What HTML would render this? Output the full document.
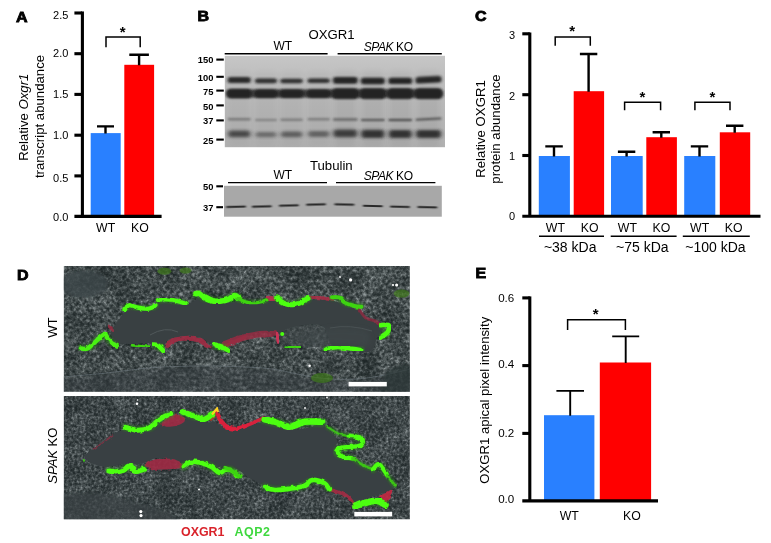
<!DOCTYPE html>
<html><head><meta charset="utf-8"><title>Figure</title>
<style>
html,body{margin:0;padding:0;background:#fff;}
body{width:771px;height:543px;overflow:hidden;}
svg{display:block;font-family:"Liberation Sans",Arial,Helvetica,sans-serif;fill:#000;}
.pl{font-weight:bold;font-size:15px;stroke:#000;stroke-width:0.85px;}
.t11{font-size:11px;}
.t115{font-size:11.5px;}
.t113{font-size:11.6px;}
.t123{font-size:12.3px;}
.t12{font-size:12px;}
.t13{font-size:13.2px;}
.mk{font-size:9.4px;font-weight:bold;}
.ax{stroke:#000;stroke-width:3.1;fill:none;}
.tk{stroke:#000;stroke-width:3.1;fill:none;}
.eb{stroke:#000;stroke-width:2.4;fill:none;}
.br{stroke:#000;stroke-width:1.5;fill:none;}
.ln{stroke:#000;stroke-width:1.4;fill:none;}
</style></head><body>
<svg width="771" height="543" viewBox="0 0 771 543">
<defs>
<filter id="b1" x="-20%" y="-100%" width="140%" height="300%"><feGaussianBlur stdDeviation="1.4 1.2"/></filter>
<filter id="b4" x="-60%" y="-20%" width="220%" height="140%"><feGaussianBlur stdDeviation="3 3"/></filter>
<filter id="b2" x="-20%" y="-300%" width="140%" height="700%"><feGaussianBlur stdDeviation="1.2 0.85"/></filter>
<filter id="b5" x="-20%" y="-300%" width="140%" height="700%"><feGaussianBlur stdDeviation="1.0 0.6"/></filter>
<filter id="b3" x="-20%" y="-100%" width="140%" height="300%"><feGaussianBlur stdDeviation="2.2 1.6"/></filter>
<filter id="gb" x="-10%" y="-10%" width="120%" height="120%"><feGaussianBlur stdDeviation="0.7"/></filter>
<filter id="gfx" x="-10%" y="-30%" width="120%" height="160%" color-interpolation-filters="sRGB"><feTurbulence type="fractalNoise" baseFrequency="0.18" numOctaves="2" seed="11" result="t"/><feDisplacementMap in="SourceGraphic" in2="t" scale="3.2" xChannelSelector="R" yChannelSelector="G" result="d"/><feGaussianBlur in="d" stdDeviation="0.75"/></filter>
<filter id="gb3" x="-20%" y="-40%" width="140%" height="180%"><feGaussianBlur stdDeviation="2.5"/></filter>
<filter id="gb2" x="-10%" y="-10%" width="120%" height="120%"><feGaussianBlur stdDeviation="1.2"/></filter>
<filter id="tex" x="0" y="0" width="100%" height="100%" color-interpolation-filters="sRGB">
  <feTurbulence type="fractalNoise" baseFrequency="0.3" numOctaves="3" seed="7" result="t1"/>
  <feColorMatrix in="t1" type="matrix" values="1 0 0 0 0  1 0 0 0 0  1 0 0 0 0  0 0 0 0 1" result="n1"/>
  <feTurbulence type="fractalNoise" baseFrequency="0.045" numOctaves="2" seed="3" result="t2"/>
  <feColorMatrix in="t2" type="matrix" values="1 0 0 0 0  1 0 0 0 0  1 0 0 0 0  0 0 0 0 1" result="n2"/>
  <feComposite in="n1" in2="n2" operator="arithmetic" k1="0" k2="1" k3="0.4" k4="-0.2" result="m"/>
  <feColorMatrix in="m" type="matrix" values="1 0 0 0 0  1 0 0 0 0  1 0 0 0 0  0 0 0 0 1" result="m2"/>
  <feComponentTransfer in="m2">
    <feFuncR type="gamma" amplitude="0.56" exponent="2" offset="0.115"/>
    <feFuncG type="gamma" amplitude="0.56" exponent="2" offset="0.148"/>
    <feFuncB type="gamma" amplitude="0.56" exponent="2" offset="0.151"/>
  </feComponentTransfer>
</filter>
<filter id="texk" x="0" y="0" width="100%" height="100%" color-interpolation-filters="sRGB">
  <feTurbulence type="fractalNoise" baseFrequency="0.36" numOctaves="3" seed="19" result="t1"/>
  <feColorMatrix in="t1" type="matrix" values="1 0 0 0 0  1 0 0 0 0  1 0 0 0 0  0 0 0 0 1" result="n1"/>
  <feTurbulence type="fractalNoise" baseFrequency="0.045" numOctaves="2" seed="5" result="t2"/>
  <feColorMatrix in="t2" type="matrix" values="1 0 0 0 0  1 0 0 0 0  1 0 0 0 0  0 0 0 0 1" result="n2"/>
  <feComposite in="n1" in2="n2" operator="arithmetic" k1="0" k2="1" k3="0.4" k4="-0.2" result="m"/>
  <feColorMatrix in="m" type="matrix" values="1 0 0 0 0  1 0 0 0 0  1 0 0 0 0  0 0 0 0 1" result="m2"/>
  <feComponentTransfer in="m2">
    <feFuncR type="gamma" amplitude="0.5" exponent="2" offset="0.118"/>
    <feFuncG type="gamma" amplitude="0.5" exponent="2" offset="0.15"/>
    <feFuncB type="gamma" amplitude="0.5" exponent="2" offset="0.156"/>
  </feComponentTransfer>
</filter>
<linearGradient id="gel1" x1="0" y1="0" x2="0" y2="1">
<stop offset="0" stop-color="#c6c6c6"/><stop offset="0.2" stop-color="#bfbfbf"/><stop offset="1" stop-color="#b1b1b1"/>
</linearGradient>
<clipPath id="cw"><rect x="63.85" y="266.1" width="345.95" height="125.55"/></clipPath>
<clipPath id="ck"><rect x="63.85" y="396" width="345.95" height="123.3"/></clipPath>
<clipPath id="cg1"><rect x="224.8" y="55.8" width="220.2" height="91.4"/></clipPath>
<clipPath id="cg2"><rect x="224" y="185.8" width="217.8" height="30.9"/></clipPath>
</defs>
<rect width="771" height="543" fill="#fff"/>

<g id="panelA">
<text class="pl" transform="translate(16.0,21.6) scale(1.07,1)">A</text>
<rect x="90.7" y="133.1" width="30.0" height="83.3" fill="#2980ff"/>
<rect x="124.3" y="64.8" width="29.8" height="151.6" fill="#ff0000"/>
<path class="eb" d="M97.0 126.4H114.0M105.5 126.4V133.6"/>
<path class="eb" d="M129.3 54.8H148.9M139.1 54.8V65.3"/>
<path class="ax" d="M82.4 11.45V216.4"/>
<path class="ax" d="M74.4 216.4H161.6"/>
<path class="tk" d="M74.4 13.0H82"/>
<text x="68.4" y="19.2" class="t11" text-anchor="end">2.5</text>
<path class="tk" d="M74.4 53.7H82"/>
<text x="68.4" y="57.4" class="t11" text-anchor="end">2.0</text>
<path class="tk" d="M74.4 94.4H82"/>
<text x="68.4" y="97.6" class="t11" text-anchor="end">1.5</text>
<path class="tk" d="M74.4 135.2H82"/>
<text x="68.4" y="139.4" class="t11" text-anchor="end">1.0</text>
<path class="tk" d="M74.4 175.9H82"/>
<text x="68.4" y="181.6" class="t11" text-anchor="end">0.5</text>
<text x="68.4" y="221.2" class="t11" text-anchor="end">0.0</text>
<path class="br" d="M106.0 47.2V37.0H140.2V47.2"/>
<text x="122.7" y="36.6" text-anchor="middle" font-size="15" font-weight="bold">*</text>
<text x="105.6" y="231.8" class="t123" text-anchor="middle">WT</text>
<text x="140.0" y="231.8" class="t123" text-anchor="middle">KO</text>
<text class="t13" text-anchor="middle" transform="translate(28.2,117.2) rotate(-90)">Relative <tspan font-style="italic">Oxgr1</tspan></text>
<text class="t13" text-anchor="middle" transform="translate(44.2,116.5) rotate(-90)">transcript abundance</text>
</g>
<g id="panelB">
<text class="pl" transform="translate(197.4,21.4) scale(1.07,1)">B</text>
<text x="331.5" y="38.7" class="t13" text-anchor="middle">OXGR1</text>
<text x="282.8" y="50.4" class="t12" text-anchor="middle">WT</text>
<text x="363.7" y="50.6" class="t12" textLength="49.3" lengthAdjust="spacing"><tspan font-style="italic">SPAK</tspan> KO</text>
<path class="ln" d="M224.7 53.7H327.6M337.6 53.7H441.8"/>
<rect x="224.8" y="55.8" width="220.2" height="91.4" fill="url(#gel1)"/>
<g clip-path="url(#cg1)">
<rect x="228.2" y="72" width="22" height="76" fill="#000" opacity="0.035" filter="url(#b4)"/>
<rect x="255.0" y="72" width="22" height="76" fill="#000" opacity="0.035" filter="url(#b4)"/>
<rect x="280.6" y="72" width="22" height="76" fill="#000" opacity="0.035" filter="url(#b4)"/>
<rect x="307.7" y="72" width="22" height="76" fill="#000" opacity="0.035" filter="url(#b4)"/>
<rect x="334.3" y="72" width="22" height="76" fill="#000" opacity="0.06" filter="url(#b4)"/>
<rect x="361.8" y="72" width="22" height="76" fill="#000" opacity="0.06" filter="url(#b4)"/>
<rect x="389.3" y="72" width="22" height="76" fill="#000" opacity="0.06" filter="url(#b4)"/>
<rect x="417.5" y="72" width="22" height="76" fill="#000" opacity="0.06" filter="url(#b4)"/>
<rect x="227.7" y="77.0" width="23" height="6" rx="2.6" fill="#1c1c1c" opacity="0.9" filter="url(#b1)"/>
<rect x="255.0" y="78.6" width="22" height="4.6" rx="2.6" fill="#1c1c1c" opacity="0.86" filter="url(#b1)"/>
<rect x="280.4" y="78.7" width="22.4" height="4.6" rx="2.6" fill="#1c1c1c" opacity="0.86" filter="url(#b1)"/>
<rect x="307.5" y="78.5" width="22.4" height="4.6" rx="2.6" fill="#1c1c1c" opacity="0.86" filter="url(#b1)"/>
<rect x="332.9" y="77.1" width="24.8" height="6.6" rx="2.6" fill="#1c1c1c" opacity="0.93" filter="url(#b1)"/>
<rect x="360.8" y="77.8" width="24" height="6.4" rx="2.6" fill="#1c1c1c" opacity="0.93" filter="url(#b1)"/>
<rect x="388.4" y="77.8" width="23.8" height="6.2" rx="2.6" fill="#1c1c1c" opacity="0.93" filter="url(#b1)"/>
<rect x="415.5" y="76.6" width="26" height="6.4" rx="2.6" fill="#1c1c1c" opacity="0.93" filter="url(#b1)" transform="rotate(-3 428.5 79.8)"/>
<rect x="226.5" y="89.6" width="216" height="8" rx="4" fill="#1a1a1a" opacity="0.75" filter="url(#b1)"/>
<rect x="226.5" y="88.9" width="25.4" height="9.4" rx="4.5" fill="#222" opacity="0.95" filter="url(#b1)"/>
<rect x="253.8" y="89.5" width="24.4" height="8.2" rx="4.5" fill="#222" opacity="0.95" filter="url(#b1)"/>
<rect x="279.2" y="89.5" width="24.799999999999997" height="8.2" rx="4.5" fill="#222" opacity="0.95" filter="url(#b1)"/>
<rect x="306.3" y="89.5" width="24.799999999999997" height="8.2" rx="4.5" fill="#222" opacity="0.95" filter="url(#b1)"/>
<rect x="331.7" y="88.2" width="27.2" height="10.8" rx="4.5" fill="#222" opacity="0.95" filter="url(#b1)"/>
<rect x="359.6" y="88.2" width="26.4" height="10.8" rx="4.5" fill="#222" opacity="0.95" filter="url(#b1)"/>
<rect x="387.2" y="88.2" width="26.2" height="10.8" rx="4.5" fill="#222" opacity="0.95" filter="url(#b1)"/>
<rect x="414.3" y="88.2" width="28.4" height="10.8" rx="4.5" fill="#222" opacity="0.95" filter="url(#b1)"/>
<rect x="227.7" y="118.3" width="23" height="1.9" rx="0.95" fill="#1c1c1c" opacity="0.46" filter="url(#b2)"/>
<rect x="255.0" y="119.0" width="22" height="1.9" rx="0.95" fill="#1c1c1c" opacity="0.34" filter="url(#b2)"/>
<rect x="280.4" y="118.8" width="22.4" height="1.9" rx="0.95" fill="#1c1c1c" opacity="0.42" filter="url(#b2)"/>
<rect x="307.5" y="118.3" width="22.4" height="1.9" rx="0.95" fill="#1c1c1c" opacity="0.42" filter="url(#b2)"/>
<rect x="332.9" y="118.6" width="24.8" height="1.9" rx="0.95" fill="#1c1c1c" opacity="0.56" filter="url(#b2)"/>
<rect x="360.8" y="119.0" width="24" height="1.9" rx="0.95" fill="#1c1c1c" opacity="0.66" filter="url(#b2)"/>
<rect x="388.4" y="119.0" width="23.8" height="1.9" rx="0.95" fill="#1c1c1c" opacity="0.74" filter="url(#b2)"/>
<rect x="415.5" y="118.2" width="26" height="1.9" rx="0.95" fill="#1c1c1c" opacity="0.74" filter="url(#b2)" transform="rotate(-3 428.5 119.2)"/>
<rect x="228.2" y="130.4" width="22" height="6.8" rx="2.8" fill="#202020" opacity="0.72" filter="url(#b3)"/>
<rect x="255.5" y="131.9" width="21" height="5.4" rx="2.8" fill="#202020" opacity="0.48" filter="url(#b3)"/>
<rect x="280.9" y="131.5" width="21.4" height="5.8" rx="2.8" fill="#202020" opacity="0.58" filter="url(#b3)"/>
<rect x="308.0" y="131.1" width="21.4" height="5.8" rx="2.8" fill="#202020" opacity="0.54" filter="url(#b3)"/>
<rect x="333.4" y="129.5" width="23.8" height="7.8" rx="2.8" fill="#202020" opacity="0.8" filter="url(#b3)"/>
<rect x="361.3" y="129.8" width="23" height="8.2" rx="2.8" fill="#202020" opacity="0.88" filter="url(#b3)"/>
<rect x="388.9" y="130.0" width="22.8" height="8" rx="2.8" fill="#202020" opacity="0.88" filter="url(#b3)"/>
<rect x="416.0" y="129.9" width="25" height="8" rx="2.8" fill="#202020" opacity="0.88" filter="url(#b3)"/>
</g>
<text x="213.4" y="62.8" class="mk" text-anchor="end">150</text>
<path d="M216.3 59.6H223.8" stroke="#000" stroke-width="2.1"/>
<text x="213.4" y="80.7" class="mk" text-anchor="end">100</text>
<path d="M216.3 76.8H223.8" stroke="#000" stroke-width="2.1"/>
<text x="213.4" y="94.5" class="mk" text-anchor="end">75</text>
<path d="M216.3 90.6H223.8" stroke="#000" stroke-width="2.1"/>
<text x="213.4" y="110.2" class="mk" text-anchor="end">50</text>
<path d="M216.3 105.4H223.8" stroke="#000" stroke-width="2.1"/>
<text x="213.4" y="123.6" class="mk" text-anchor="end">37</text>
<path d="M216.3 120.4H223.8" stroke="#000" stroke-width="2.1"/>
<text x="213.4" y="143.8" class="mk" text-anchor="end">25</text>
<path d="M216.3 139.6H223.8" stroke="#000" stroke-width="2.1"/>
<text x="331.3" y="169.7" class="t13" text-anchor="middle">Tubulin</text>
<text x="282.8" y="179.4" class="t12" text-anchor="middle">WT</text>
<text x="363.7" y="179.5" class="t12" textLength="49.3" lengthAdjust="spacing"><tspan font-style="italic">SPAK</tspan> KO</text>
<path class="ln" d="M228 182.6H327M336 182.6H435.4"/>
<rect x="224" y="185.8" width="217.8" height="30.9" fill="#a8a8a8"/>
<g clip-path="url(#cg2)">
<rect x="226.0" y="205.8" width="20" height="2" rx="1" fill="#1c1c1c" opacity="0.9" filter="url(#b5)" transform="rotate(-1.6 236 206.8)"/>
<rect x="251.8" y="205.4" width="20" height="2" rx="1" fill="#1c1c1c" opacity="0.9" filter="url(#b5)" transform="rotate(-1.6 261.8 206.4)"/>
<rect x="278.9" y="204.5" width="20" height="2" rx="1" fill="#1c1c1c" opacity="0.9" filter="url(#b5)" transform="rotate(-1.6 288.9 205.5)"/>
<rect x="306.0" y="203.6" width="20" height="2" rx="1" fill="#1c1c1c" opacity="0.9" filter="url(#b5)" transform="rotate(-1.6 316 204.6)"/>
<rect x="334.4" y="203.6" width="20" height="2" rx="1" fill="#1c1c1c" opacity="0.9" filter="url(#b5)" transform="rotate(1.5 344.4 204.6)"/>
<rect x="362.8" y="205.0" width="20" height="2" rx="1" fill="#1c1c1c" opacity="0.9" filter="url(#b5)" transform="rotate(1.5 372.8 206)"/>
<rect x="390.0" y="205.8" width="20" height="2" rx="1" fill="#1c1c1c" opacity="0.9" filter="url(#b5)" transform="rotate(1.5 400 206.8)"/>
<rect x="417.3" y="206.2" width="20" height="2" rx="1" fill="#1c1c1c" opacity="0.9" filter="url(#b5)" transform="rotate(1.5 427.3 207.2)"/>
</g>
<text x="213.4" y="189.6" class="mk" text-anchor="end">50</text>
<path d="M216.3 186.3H223" stroke="#000" stroke-width="2.1"/>
<text x="213.4" y="210.5" class="mk" text-anchor="end">37</text>
<path d="M216.3 207.2H223" stroke="#000" stroke-width="2.1"/>
</g>
<g id="panelC">
<text class="pl" transform="translate(475.0,21.2) scale(1.07,1)">C</text>
<rect x="538.8" y="156.0" width="31.1" height="60.3" fill="#2980ff"/>
<path class="eb" d="M545.3 146.4H562.8M554.0 146.4V156.5"/>
<rect x="573.7" y="91.2" width="30.4" height="125.1" fill="#ff0000"/>
<path class="eb" d="M579.9 54.0H597.3M588.6 54.0V91.7"/>
<rect x="611.0" y="156.0" width="31.7" height="60.3" fill="#2980ff"/>
<path class="eb" d="M617.9 151.8H635.3M626.6 151.8V156.5"/>
<rect x="646.3" y="137.2" width="30.6" height="79.1" fill="#ff0000"/>
<path class="eb" d="M652.6 132.2H670.0M661.3 132.2V137.7"/>
<rect x="684.2" y="156.0" width="31.1" height="60.3" fill="#2980ff"/>
<path class="eb" d="M690.8 146.4H708.2M699.5 146.4V156.5"/>
<rect x="719.8" y="132.3" width="30.4" height="84.0" fill="#ff0000"/>
<path class="eb" d="M726.0 125.8H743.4M734.7 125.8V132.8"/>
<path class="ax" d="M529.8 32.5V216.3"/>
<path class="ax" d="M522.3 216.3H760.5"/>
<path class="tk" d="M522.3 33.8H529.8"/>
<text x="515.0" y="38.8" class="t11" text-anchor="end">3</text>
<path class="tk" d="M522.3 94.7H529.8"/>
<text x="515.0" y="99.7" class="t11" text-anchor="end">2</text>
<path class="tk" d="M522.3 155.5H529.8"/>
<text x="515.0" y="160.1" class="t11" text-anchor="end">1</text>
<text x="515.0" y="220.4" class="t11" text-anchor="end">0</text>
<path class="br" d="M555.2 45.8V37.1H590.3V45.8"/>
<text x="572.2" y="36.3" text-anchor="middle" font-size="15" font-weight="bold">*</text>
<path class="br" d="M624.6 110.3V102.2H660.6V110.3"/>
<text x="642.5" y="101.8" text-anchor="middle" font-size="15" font-weight="bold">*</text>
<path class="br" d="M694.9 110.3V102.2H730.0V110.3"/>
<text x="712.4" y="101.8" text-anchor="middle" font-size="15" font-weight="bold">*</text>
<text x="555.4" y="231.9" class="t123" text-anchor="middle">WT</text>
<text x="589.7" y="231.9" class="t123" text-anchor="middle">KO</text>
<text x="627.4" y="231.9" class="t123" text-anchor="middle">WT</text>
<text x="661.5" y="231.9" class="t123" text-anchor="middle">KO</text>
<text x="699.6" y="231.9" class="t123" text-anchor="middle">WT</text>
<text x="733.7" y="231.9" class="t123" text-anchor="middle">KO</text>
<path class="ln" d="M539 236.2H604M610.7 236.2H676.6M682.8 236.2H749.8"/>
<text x="543.9" y="251.8" font-size="14">~38 kDa</text>
<text x="616" y="251.8" font-size="14">~75 kDa</text>
<text x="685.3" y="251.8" font-size="14">~100 kDa</text>
<text class="t13" text-anchor="middle" transform="translate(485,129) rotate(-90)">Relative OXGR1</text>
<text class="t13" text-anchor="middle" transform="translate(500.4,129) rotate(-90)">protein abundance</text>
</g>
<g id="panelE">
<text class="pl" transform="translate(475.4,277.6) scale(1.07,1)">E</text>
<rect x="544.0" y="415.2" width="50.4" height="85.7" fill="#2980ff"/>
<rect x="599.8" y="362.5" width="51.3" height="138.4" fill="#ff0000"/>
<path class="eb" style="stroke-width:1.9" d="M556.4 390.9H584.0M570.2 390.9V415.7"/>
<path class="eb" style="stroke-width:1.9" d="M612.2 336.4H639.2M625.7 336.4V363.0"/>
<path class="ax" d="M529.8 296.4V500.9"/>
<path class="ax" d="M522.3 500.9H658"/>
<path class="tk" d="M522.3 297.9H529.8"/>
<text x="514.3" y="302.0" class="t113" text-anchor="end">0.6</text>
<path class="tk" d="M522.3 365.6H529.8"/>
<text x="514.3" y="368.4" class="t113" text-anchor="end">0.4</text>
<path class="tk" d="M522.3 433.4H529.8"/>
<text x="514.3" y="437.4" class="t113" text-anchor="end">0.2</text>
<text x="514.3" y="502.6" class="t113" text-anchor="end">0.0</text>
<path class="br" d="M567.6 330.0V319.7H625.4V330.0"/>
<text x="595.6" y="318.8" text-anchor="middle" font-size="15" font-weight="bold">*</text>
<text x="569.3" y="520.3" class="t123" text-anchor="middle">WT</text>
<text x="632.0" y="520.3" class="t123" text-anchor="middle">KO</text>
<text class="t13" text-anchor="middle" transform="translate(489.3,400.3) rotate(-90)">OXGR1 apical pixel intensity</text>
</g>
<g id="panelD">
<text class="pl" transform="translate(17.0,279.8) scale(1.07,1)">D</text>
<text class="t13" text-anchor="middle" transform="translate(57.2,327.6) rotate(-90)">WT</text>
<text class="t13" transform="translate(57.2,483.7) rotate(-90)" textLength="56.2" lengthAdjust="spacing"><tspan font-style="italic">SPAK</tspan> KO</text>
<text x="181" y="536" font-size="12.4" font-weight="bold" fill="#d9222a">OXGR1</text>
<text x="234.6" y="536" font-size="12.4" font-weight="bold" fill="#3fd83f" textLength="35.3" lengthAdjust="spacing">AQP2</text>
<g clip-path="url(#cw)">
<rect x="63" y="265" width="348" height="128" filter="url(#tex)"/>
<ellipse cx="84" cy="284" rx="24" ry="14" fill="#3e4648" opacity="0.8" filter="url(#gb2)"/>
<path d="M62.0 377.0C69.1 376.4 89.3 374.8 104.7 373.2C120.1 371.6 137.9 368.7 154.5 367.5C171.1 366.3 189.1 366.1 204.2 366.0C219.3 365.9 233.2 366.4 245.0 367.0C256.8 367.6 263.5 367.8 274.7 369.4C285.9 371.0 300.4 375.2 312.0 376.9C323.6 378.6 334.0 379.4 344.4 379.4C354.8 379.4 363.1 378.6 374.2 376.9C385.3 375.2 404.9 370.3 411.0 369.0L411 393L62 393Z" fill="#3a4244" opacity="0.45" filter="url(#gb2)"/>
<path d="M62.0 377.0C69.1 376.4 89.3 374.8 104.7 373.2C120.1 371.6 137.9 368.7 154.5 367.5C171.1 366.3 189.1 366.1 204.2 366.0C219.3 365.9 233.2 366.4 245.0 367.0C256.8 367.6 263.5 367.8 274.7 369.4C285.9 371.0 300.4 375.2 312.0 376.9C323.6 378.6 334.0 379.4 344.4 379.4C354.8 379.4 363.1 378.6 374.2 376.9C385.3 375.2 404.9 370.3 411.0 369.0" fill="none" stroke="#78828a" stroke-width="0.9" opacity="0.55"/>
<path d="M380 392 L384 372 Q398 362 411 364 L411 392Z" fill="#2c3436" opacity="0.7" filter="url(#gb2)"/>
<path d="M111.0 331.0C111.6 328.1 115.1 325.1 117.2 322.2C119.3 319.3 121.3 315.6 123.4 313.5C125.5 311.4 126.5 310.3 129.6 309.7C132.7 309.1 138.1 309.9 142.0 309.7C145.9 309.5 150.3 309.7 153.2 308.5C156.1 307.3 156.4 303.1 159.5 302.3C162.6 301.5 167.8 303.1 171.9 303.5C176.0 303.9 180.6 305.2 184.3 304.8C188.0 304.4 191.8 302.2 194.3 301.0C196.8 299.8 196.7 297.5 199.2 297.3C201.7 297.1 205.9 298.8 209.2 299.8C212.5 300.8 215.4 303.1 219.1 303.5C222.8 303.9 227.3 302.8 231.6 302.3C235.9 301.8 241.5 300.1 245.0 300.3C248.5 300.5 249.1 303.4 252.4 303.5C255.7 303.6 261.5 301.6 264.8 301.0C268.1 300.4 270.0 299.8 272.3 299.8C274.6 299.8 276.0 300.0 278.5 301.0C281.0 302.0 284.1 305.4 287.2 306.0C290.3 306.6 293.4 305.8 297.1 304.8C300.8 303.8 305.0 300.6 309.6 299.8C314.2 299.0 320.4 299.6 324.5 299.8C328.6 300.0 331.1 300.2 334.4 301.0C337.7 301.8 341.1 303.6 344.4 304.8C347.7 306.1 351.6 307.7 354.3 308.5C357.0 309.3 358.8 308.2 360.5 309.7C362.2 311.1 362.0 315.1 364.3 317.2C366.6 319.3 371.3 320.8 374.2 322.2C377.1 323.6 380.7 323.8 381.7 325.9C382.7 328.0 381.2 332.5 380.4 334.6C379.6 336.7 377.7 336.2 376.7 338.3C375.7 340.4 375.4 344.7 374.2 347.0C372.9 349.3 371.7 351.4 369.2 352.0C366.7 352.6 362.6 351.4 359.3 350.8C356.0 350.2 353.0 348.9 349.3 348.3C345.6 347.7 339.9 347.6 336.9 347.0C333.9 346.4 333.1 346.9 331.5 345.0C329.9 343.1 328.9 338.6 327.5 335.5C326.1 332.4 325.6 328.3 323.0 326.5C320.4 324.7 316.5 324.6 312.0 324.6C307.5 324.6 300.7 325.6 296.0 326.5C291.3 327.4 286.8 328.9 284.0 330.2C281.2 331.5 281.1 334.0 279.5 334.5C277.9 335.0 277.6 333.8 274.7 333.4C271.8 333.0 266.4 331.9 262.3 332.1C258.2 332.3 254.1 333.4 249.9 334.6C245.8 335.9 241.3 337.8 237.4 339.6C233.5 341.4 230.1 344.7 226.6 345.3C223.1 345.9 219.2 343.4 216.7 343.3C214.2 343.2 213.8 345.2 211.7 344.6C209.6 344.0 207.1 341.1 204.2 339.6C201.3 338.2 197.6 336.5 194.3 335.9C191.0 335.3 188.0 335.5 184.3 335.9C180.6 336.3 175.0 337.3 171.9 338.3C168.8 339.3 167.4 340.8 165.7 342.0C164.0 343.2 163.8 345.6 161.9 345.8C160.0 346.0 157.8 343.7 154.5 343.3C151.2 342.9 145.7 343.2 142.0 343.3C138.3 343.4 135.8 344.0 132.1 344.0C128.4 344.0 122.8 344.0 119.7 343.3C116.6 342.6 114.9 341.7 113.4 339.6C112.0 337.6 110.4 333.9 111.0 331.0Z" fill="#394042"/>
<path d="M279.5 335 L284 330.2 L296 326.5 L312 324.6 L323 326.5 L327.5 335.5 L331.5 345 L336 348 L300 346.5 L281 344Z" fill="#3f4749" opacity="0.5" filter="url(#gb)"/>
<path d="M150 335 Q165 326 178 332" stroke="#50585a" stroke-width="1" fill="none"/>
<path d="M330 328 Q350 324 372 331" stroke="#4b5355" stroke-width="1" fill="none"/>
<path d="M296 336 Q330 324 366 330 Q374 338 366 347 Q330 343 300 343Z" fill="#434b4d" opacity="0.45" filter="url(#gb3)"/>
<path d="M164.4 347.0C164.4 346.0 166.5 342.4 168.2 340.8C169.9 339.2 171.7 338.4 174.4 337.6C177.1 336.8 181.0 336.2 184.3 335.9C187.6 335.6 191.4 335.5 194.3 335.9C197.2 336.3 199.4 337.1 201.7 338.3C204.0 339.5 206.2 341.6 207.9 343.3C209.6 345.0 212.3 347.9 211.7 348.3C211.1 348.7 206.7 346.9 204.2 345.8C201.7 344.8 200.1 342.8 196.8 342.0C193.5 341.2 188.0 340.7 184.3 340.8C180.6 340.9 177.1 341.8 174.4 342.8C171.7 343.8 169.9 346.3 168.2 347.0C166.5 347.7 164.4 348.0 164.4 347.0Z" fill="#a02c44" opacity="0.92" filter="url(#gfx)"/>
<path d="M226.6 345.6C227.8 345.0 230.9 343.2 234.0 341.8C237.1 340.4 243.2 337.8 245.0 337.0" fill="none" stroke="#a52c44" stroke-width="3.5" stroke-linecap="round" stroke-linejoin="round" opacity="0.9" filter="url(#gfx)"/>
<path d="M225.0 344.1C227.5 343.1 234.5 340.2 239.9 338.6C245.3 337.0 251.5 335.4 257.3 334.6C263.1 333.8 271.8 333.8 274.7 333.6" fill="none" stroke="#962c42" stroke-width="6.5" stroke-linecap="round" stroke-linejoin="round" opacity="0.85" filter="url(#gfx)"/>
<path d="M276.6 333.5C276.8 334.2 277.3 336.6 277.6 338.0C277.9 339.4 278.1 341.3 278.2 342.0" fill="none" stroke="#d03458" stroke-width="3.6" stroke-linecap="round" stroke-linejoin="round" opacity="0.95" filter="url(#gfx)"/>
<path d="M267.0 297.5C267.5 297.7 268.9 298.2 270.0 298.6C271.1 299.0 273.0 299.4 273.6 299.6" fill="none" stroke="#b83050" stroke-width="6" stroke-linecap="round" stroke-linejoin="round" opacity="0.9" filter="url(#gfx)"/>
<path d="M310.5 297.0C312.0 297.0 315.9 296.8 319.5 297.2C323.1 297.6 329.9 299.2 332.0 299.6" fill="none" stroke="#a52c44" stroke-width="4.2" stroke-linecap="round" stroke-linejoin="round" opacity="0.9" filter="url(#gfx)"/>
<path d="M359.3 309.7C360.3 311.0 363.0 315.8 365.5 317.7C368.0 319.6 371.7 319.8 374.2 320.9C376.7 322.0 379.4 323.6 380.4 324.2" fill="none" stroke="#8e2a40" stroke-width="3" stroke-linecap="round" stroke-linejoin="round" opacity="0.8" filter="url(#gfx)"/>
<path d="M108.5 325.9C109.2 326.6 112.0 329.6 112.7 330.4" fill="none" stroke="#a52c44" stroke-width="2.8" stroke-linecap="round" stroke-linejoin="round" opacity="0.75" filter="url(#gfx)"/>
<path d="M124.5 310.2C124.9 309.6 126.1 307.4 127.0 306.6C127.9 305.8 128.3 305.1 130.0 305.2C131.7 305.3 134.2 306.8 137.0 307.4C139.8 308.0 144.4 308.8 147.0 308.8C149.6 308.8 151.1 308.0 152.5 307.4C153.9 306.8 155.0 305.4 155.5 305.0" fill="none" stroke="#2c9a12" stroke-width="6.6" stroke-linecap="round" stroke-linejoin="round" opacity="0.5" filter="url(#gb2)"/>
<path d="M124.5 310.2C124.9 309.6 126.1 307.4 127.0 306.6C127.9 305.8 128.3 305.1 130.0 305.2C131.7 305.3 134.2 306.8 137.0 307.4C139.8 308.0 144.4 308.8 147.0 308.8C149.6 308.8 151.1 308.0 152.5 307.4C153.9 306.8 155.0 305.4 155.5 305.0" fill="none" stroke="#4cff10" stroke-width="4.2" stroke-linecap="round" stroke-linejoin="round" opacity="1" filter="url(#gfx)"/>
<path d="M158.0 300.0C159.2 299.9 162.7 299.4 165.0 299.4C167.3 299.4 169.7 299.4 172.0 299.8C174.3 300.2 176.7 301.0 179.0 301.6C181.3 302.2 184.5 303.3 185.6 303.6" fill="none" stroke="#2c9a12" stroke-width="6.4" stroke-linecap="round" stroke-linejoin="round" opacity="0.5" filter="url(#gb2)"/>
<path d="M158.0 300.0C159.2 299.9 162.7 299.4 165.0 299.4C167.3 299.4 169.7 299.4 172.0 299.8C174.3 300.2 176.7 301.0 179.0 301.6C181.3 302.2 184.5 303.3 185.6 303.6" fill="none" stroke="#4cff10" stroke-width="4" stroke-linecap="round" stroke-linejoin="round" opacity="1" filter="url(#gfx)"/>
<path d="M196.0 293.6C196.6 293.6 198.2 292.8 199.5 293.4C200.8 294.0 201.9 295.8 204.0 297.0C206.1 298.2 209.3 300.1 212.0 300.8C214.7 301.5 217.3 301.4 220.0 301.2C222.7 301.0 225.6 300.4 228.0 299.5C230.4 298.6 232.8 295.9 234.5 295.6C236.2 295.3 237.4 297.2 238.0 297.5" fill="none" stroke="#2c9a12" stroke-width="8.0" stroke-linecap="round" stroke-linejoin="round" opacity="0.5" filter="url(#gb2)"/>
<path d="M196.0 293.6C196.6 293.6 198.2 292.8 199.5 293.4C200.8 294.0 201.9 295.8 204.0 297.0C206.1 298.2 209.3 300.1 212.0 300.8C214.7 301.5 217.3 301.4 220.0 301.2C222.7 301.0 225.6 300.4 228.0 299.5C230.4 298.6 232.8 295.9 234.5 295.6C236.2 295.3 237.4 297.2 238.0 297.5" fill="none" stroke="#4cff10" stroke-width="5.6" stroke-linecap="round" stroke-linejoin="round" opacity="1" filter="url(#gfx)"/>
<path d="M238.0 298.5C239.3 299.1 243.2 301.3 246.0 302.0C248.8 302.7 252.3 302.9 255.0 302.8C257.7 302.7 260.2 302.0 262.0 301.5C263.8 301.0 265.3 300.1 266.0 299.8" fill="none" stroke="#2c9a12" stroke-width="5.4" stroke-linecap="round" stroke-linejoin="round" opacity="0.5" filter="url(#gb2)"/>
<path d="M238.0 298.5C239.3 299.1 243.2 301.3 246.0 302.0C248.8 302.7 252.3 302.9 255.0 302.8C257.7 302.7 260.2 302.0 262.0 301.5C263.8 301.0 265.3 300.1 266.0 299.8" fill="none" stroke="#3ed410" stroke-width="3" stroke-linecap="round" stroke-linejoin="round" opacity="1" filter="url(#gfx)"/>
<path d="M277.0 297.0C277.7 297.8 279.2 300.2 281.0 301.5C282.8 302.8 285.3 304.2 288.0 304.6C290.7 305.0 294.3 304.7 297.0 304.0C299.7 303.3 302.2 301.4 304.0 300.5C305.8 299.6 307.3 298.8 308.0 298.5" fill="none" stroke="#2c9a12" stroke-width="7.4" stroke-linecap="round" stroke-linejoin="round" opacity="0.5" filter="url(#gb2)"/>
<path d="M277.0 297.0C277.7 297.8 279.2 300.2 281.0 301.5C282.8 302.8 285.3 304.2 288.0 304.6C290.7 305.0 294.3 304.7 297.0 304.0C299.7 303.3 302.2 301.4 304.0 300.5C305.8 299.6 307.3 298.8 308.0 298.5" fill="none" stroke="#4cff10" stroke-width="5" stroke-linecap="round" stroke-linejoin="round" opacity="1" filter="url(#gfx)"/>
<path d="M332.0 297.3C333.2 297.3 337.3 296.7 339.4 297.5C341.5 298.3 341.9 300.9 344.4 302.3C346.9 303.7 351.5 305.2 354.3 306.0C357.1 306.8 360.1 306.7 361.3 306.8" fill="none" stroke="#2c9a12" stroke-width="6.4" stroke-linecap="round" stroke-linejoin="round" opacity="0.5" filter="url(#gb2)"/>
<path d="M332.0 297.3C333.2 297.3 337.3 296.7 339.4 297.5C341.5 298.3 341.9 300.9 344.4 302.3C346.9 303.7 351.5 305.2 354.3 306.0C357.1 306.8 360.1 306.7 361.3 306.8" fill="none" stroke="#3ed410" stroke-width="4" stroke-linecap="round" stroke-linejoin="round" opacity="1" filter="url(#gfx)"/>
<path d="M380.4 325.2C381.8 325.2 387.4 324.0 388.6 325.2C389.8 326.4 389.0 330.0 387.6 332.1C386.2 334.2 381.6 336.7 380.4 337.6" fill="none" stroke="#2c9a12" stroke-width="7.0" stroke-linecap="round" stroke-linejoin="round" opacity="0.5" filter="url(#gb2)"/>
<path d="M380.4 325.2C381.8 325.2 387.4 324.0 388.6 325.2C389.8 326.4 389.0 330.0 387.6 332.1C386.2 334.2 381.6 336.7 380.4 337.6" fill="none" stroke="#4cff10" stroke-width="4.6" stroke-linecap="round" stroke-linejoin="round" opacity="1" filter="url(#gfx)"/>
<path d="M81.0 348.5C82.0 348.6 85.1 349.5 87.0 348.8C88.9 348.1 90.4 346.3 92.5 344.5C94.6 342.7 97.4 339.8 99.5 338.0C101.6 336.2 104.1 334.5 105.0 333.8" fill="none" stroke="#2c9a12" stroke-width="6.800000000000001" stroke-linecap="round" stroke-linejoin="round" opacity="0.5" filter="url(#gb2)"/>
<path d="M81.0 348.5C82.0 348.6 85.1 349.5 87.0 348.8C88.9 348.1 90.4 346.3 92.5 344.5C94.6 342.7 97.4 339.8 99.5 338.0C101.6 336.2 104.1 334.5 105.0 333.8" fill="none" stroke="#4cff10" stroke-width="4.4" stroke-linecap="round" stroke-linejoin="round" opacity="0.9" filter="url(#gfx)"/>
<path d="M105.5 335.0C105.9 335.7 106.9 337.7 108.0 339.0C109.1 340.3 110.5 341.9 112.0 343.0C113.5 344.1 116.2 345.3 117.0 345.8" fill="none" stroke="#2c9a12" stroke-width="6.4" stroke-linecap="round" stroke-linejoin="round" opacity="0.5" filter="url(#gb2)"/>
<path d="M105.5 335.0C105.9 335.7 106.9 337.7 108.0 339.0C109.1 340.3 110.5 341.9 112.0 343.0C113.5 344.1 116.2 345.3 117.0 345.8" fill="none" stroke="#4cff10" stroke-width="4" stroke-linecap="round" stroke-linejoin="round" opacity="0.9" filter="url(#gfx)"/>
<path d="M132.1 345.3C133.4 345.4 137.3 345.8 140.0 346.0C142.7 346.2 146.9 346.4 148.3 346.5" fill="none" stroke="#2c9a12" stroke-width="4.8" stroke-linecap="round" stroke-linejoin="round" opacity="0.5" filter="url(#gb2)"/>
<path d="M132.1 345.3C133.4 345.4 137.3 345.8 140.0 346.0C142.7 346.2 146.9 346.4 148.3 346.5" fill="none" stroke="#3ed410" stroke-width="2.4" stroke-linecap="round" stroke-linejoin="round" opacity="1" filter="url(#gfx)"/>
<path d="M153.2 344.6C154.0 344.8 156.5 344.8 158.2 345.8C159.9 346.8 162.4 350.0 163.2 350.8" fill="none" stroke="#2c9a12" stroke-width="7.199999999999999" stroke-linecap="round" stroke-linejoin="round" opacity="0.5" filter="url(#gb2)"/>
<path d="M153.2 344.6C154.0 344.8 156.5 344.8 158.2 345.8C159.9 346.8 162.4 350.0 163.2 350.8" fill="none" stroke="#4cff10" stroke-width="4.8" stroke-linecap="round" stroke-linejoin="round" opacity="1" filter="url(#gfx)"/>
<path d="M214.2 344.6C215.4 345.0 219.3 346.0 221.6 347.0C223.9 348.0 226.8 350.2 227.8 350.8" fill="none" stroke="#2c9a12" stroke-width="7.6" stroke-linecap="round" stroke-linejoin="round" opacity="0.5" filter="url(#gb2)"/>
<path d="M214.2 344.6C215.4 345.0 219.3 346.0 221.6 347.0C223.9 348.0 226.8 350.2 227.8 350.8" fill="none" stroke="#4cff10" stroke-width="5.2" stroke-linecap="round" stroke-linejoin="round" opacity="1" filter="url(#gfx)"/>
<path d="M286.0 347.0C288.3 347.1 297.3 347.4 299.6 347.5" fill="none" stroke="#2c9a12" stroke-width="5.4" stroke-linecap="round" stroke-linejoin="round" opacity="0.5" filter="url(#gb2)"/>
<path d="M286.0 347.0C288.3 347.1 297.3 347.4 299.6 347.5" fill="none" stroke="#3ed410" stroke-width="3" stroke-linecap="round" stroke-linejoin="round" opacity="1" filter="url(#gfx)"/>
<path d="M325.7 349.5C327.6 349.1 333.1 347.4 337.0 347.2C340.9 347.0 345.2 347.9 349.3 348.4C353.4 348.9 359.3 349.7 361.3 350.0" fill="none" stroke="#2c9a12" stroke-width="6.6" stroke-linecap="round" stroke-linejoin="round" opacity="0.5" filter="url(#gb2)"/>
<path d="M325.7 349.5C327.6 349.1 333.1 347.4 337.0 347.2C340.9 347.0 345.2 347.9 349.3 348.4C353.4 348.9 359.3 349.7 361.3 350.0" fill="none" stroke="#4cff10" stroke-width="4.2" stroke-linecap="round" stroke-linejoin="round" opacity="1" filter="url(#gfx)"/>
<circle cx="282.2" cy="334.1" r="2" fill="#4cff10" filter="url(#gb)"/>
<ellipse cx="322" cy="378" rx="11" ry="5" fill="#3f7a1c" opacity="0.7" filter="url(#gb)"/>
<ellipse cx="401.6" cy="293.6" rx="8" ry="4" fill="#3f7a1c" opacity="0.7" filter="url(#gb)"/>
<ellipse cx="164.4" cy="271.2" rx="7" ry="3.5" fill="#3f7a1c" opacity="0.7" filter="url(#gb)"/>
<ellipse cx="185.6" cy="270.6" rx="6" ry="3" fill="#3f7a1c" opacity="0.7" filter="url(#gb)"/>
<circle cx="350.6" cy="279.9" r="1.6" fill="#fff" filter="url(#gb)"/>
<circle cx="396.6" cy="284.9" r="1.5" fill="#fff" filter="url(#gb)"/>
<circle cx="309.6" cy="365.7" r="1.3" fill="#fff" filter="url(#gb)"/>
<circle cx="340" cy="277" r="0.9" fill="#fff" filter="url(#gb)"/>
<circle cx="393" cy="285" r="1.1" fill="#fff" filter="url(#gb)"/>
<rect x="348.6" y="381.9" width="38.2" height="4.5" fill="#fff"/>
</g>
<g clip-path="url(#ck)">
<rect x="63" y="395" width="348" height="126" filter="url(#texk)"/>
<path d="M62 493 Q95 490 120 497 T160 509 T180 521 H62Z" fill="#3a4244" opacity="0.7" filter="url(#gb2)"/>
<path d="M84.8 455.9C86.0 453.2 92.7 449.5 97.3 446.0C101.9 442.5 107.7 437.5 112.2 434.8C116.8 432.1 120.4 430.4 124.6 429.8C128.8 429.2 132.9 431.0 137.1 431.0C141.2 431.0 145.8 431.2 149.5 429.8C153.2 428.4 156.6 423.1 159.5 422.3C162.4 421.5 164.4 424.4 166.9 424.8C169.4 425.2 171.5 425.6 174.4 424.8C177.3 424.0 181.6 421.0 184.3 419.8C187.0 418.6 188.4 417.4 190.5 417.4C192.6 417.4 194.1 419.0 196.8 419.8C199.5 420.6 203.8 421.9 206.7 422.3C209.6 422.7 211.3 421.5 214.2 422.3C217.1 423.1 220.6 425.9 224.1 427.3C227.6 428.7 230.7 431.0 235.0 430.6C239.3 430.2 244.9 426.2 249.9 424.8C254.9 423.4 260.7 422.1 264.8 422.3C268.9 422.5 270.6 424.9 274.7 426.1C278.8 427.4 284.7 429.4 289.7 429.8C294.7 430.2 299.2 429.3 304.6 428.5C310.0 427.7 317.9 424.4 322.0 424.8C326.1 425.2 327.0 428.5 329.5 431.0C332.0 433.5 335.9 436.6 336.9 439.7C337.9 442.8 334.9 447.2 335.7 449.7C336.5 452.2 338.8 453.0 341.9 454.7C345.0 456.4 350.1 457.5 354.3 459.6C358.5 461.7 362.7 465.0 366.8 467.1C370.9 469.2 375.9 470.0 379.2 472.1C382.5 474.2 384.2 477.0 386.7 479.5C389.2 482.0 393.7 485.1 394.1 487.0C394.5 488.9 391.6 489.4 389.1 490.7C386.6 491.9 383.3 493.1 379.2 494.5C375.1 495.9 368.2 497.8 364.3 499.4C360.4 501.0 358.1 504.8 355.6 504.4C353.1 504.0 351.6 499.0 349.3 496.9C347.0 494.8 344.8 493.2 341.9 492.0C339.0 490.8 334.4 490.6 331.9 489.5C329.4 488.4 329.1 487.1 327.0 485.7C324.9 484.2 322.0 481.8 319.5 480.8C317.0 479.8 315.3 479.1 312.0 479.5C308.7 479.9 303.7 482.3 299.6 483.3C295.5 484.3 291.4 485.1 287.2 485.7C283.0 486.3 278.4 487.0 274.7 487.0C271.0 487.0 268.1 486.7 264.8 485.7C261.5 484.7 258.1 482.6 254.8 480.8C251.5 479.0 247.8 476.5 244.9 474.6C242.0 472.7 240.7 471.0 237.4 469.6C234.1 468.2 228.9 466.4 225.0 466.0C221.1 465.6 217.7 467.8 214.2 467.1C210.7 466.5 207.5 463.1 204.2 462.1C200.9 461.1 197.6 460.5 194.3 460.9C191.0 461.3 186.8 464.4 184.3 464.6C181.8 464.8 182.2 463.1 179.3 462.1C176.4 461.1 171.0 459.0 166.9 458.4C162.8 457.8 157.8 457.8 154.5 458.4C151.2 459.0 150.3 461.1 147.0 462.1C143.7 463.1 139.2 464.2 134.6 464.6C130.0 465.0 124.7 464.2 119.7 464.6C114.7 465.0 109.7 467.5 104.7 467.1C99.7 466.7 93.1 464.0 89.8 462.1C86.5 460.2 83.5 458.6 84.8 455.9Z" fill="#394043"/>
<path d="M161.4 423.6C161.9 422.0 166.0 418.8 168.2 417.4C170.3 415.9 172.1 415.1 174.4 414.9C176.7 414.7 180.1 415.1 181.8 416.1C183.6 417.1 185.2 419.6 184.8 421.1C184.4 422.5 181.5 423.9 179.3 424.8C177.2 425.7 174.2 426.3 171.9 426.6C169.6 426.8 167.4 427.1 165.7 426.6C163.9 426.1 161.0 425.1 161.4 423.6Z" fill="#a02a44" opacity="0.9" filter="url(#gfx)"/>
<path d="M146.6 463.3C147.5 462.3 150.1 461.3 152.0 460.6C153.9 459.9 154.9 459.4 158.0 459.1C161.1 458.8 167.3 458.5 170.5 458.7C173.7 458.9 175.1 459.6 177.0 460.4C178.9 461.2 181.0 462.1 181.9 463.3C182.8 464.5 184.7 466.5 182.4 467.5C180.2 468.5 173.2 469.0 168.4 469.3C163.7 469.6 157.5 469.9 153.9 469.5C150.3 469.1 147.8 467.8 146.6 466.8C145.4 465.8 145.7 464.3 146.6 463.3Z" fill="#a02a44" opacity="0.9" filter="url(#gfx)"/>
<path d="M211.0 418.6C211.9 417.6 215.1 412.5 216.5 412.5C217.9 412.5 218.2 416.5 219.5 418.5C220.8 420.5 222.1 422.9 224.5 424.6C226.9 426.3 230.6 428.5 234.0 428.8C237.4 429.1 243.2 426.7 245.0 426.3" fill="none" stroke="#e0203c" stroke-width="4.2" stroke-linecap="round" stroke-linejoin="round" opacity="0.95" filter="url(#gfx)"/>
<path d="M225.0 427.3C226.7 427.7 230.8 430.3 234.9 429.8C239.1 429.3 245.1 426.0 249.9 424.1C254.6 422.1 261.3 419.1 263.5 418.1" fill="none" stroke="#e0203c" stroke-width="3.6" stroke-linecap="round" stroke-linejoin="round" opacity="0.95" filter="url(#gfx)"/>
<path d="M92.3 449.7C95.7 447.4 109.3 438.3 112.7 436.0" fill="none" stroke="#a52c44" stroke-width="1.3" stroke-linecap="round" stroke-linejoin="round" opacity="0.6" filter="url(#gfx)"/>
<path d="M331.9 490.2C333.6 490.7 339.0 491.9 341.9 493.2C344.8 494.5 347.2 496.0 349.3 498.2C351.5 500.4 353.9 505.0 354.8 506.4" fill="none" stroke="#a52c44" stroke-width="3.6" stroke-linecap="round" stroke-linejoin="round" opacity="0.9" filter="url(#gfx)"/>
<path d="M378.8 496.7C379.3 495.6 383.8 493.9 386.0 492.8C388.3 491.6 391.5 489.0 392.2 489.7C392.9 490.3 391.1 494.4 390.2 496.5C389.4 498.6 388.4 502.0 387.1 502.5C385.9 502.9 384.1 500.3 382.7 499.4C381.3 498.4 378.2 497.8 378.8 496.7Z" fill="#c42842" opacity="0.9" filter="url(#gfx)"/>
<path d="M125.4 427.3C127.3 427.8 133.0 430.2 137.1 430.3C141.1 430.4 145.8 429.6 149.5 427.8C153.2 426.0 155.9 421.7 159.5 419.3C163.0 417.0 168.8 414.6 170.6 413.6" fill="none" stroke="#2c9a12" stroke-width="7.4" stroke-linecap="round" stroke-linejoin="round" opacity="0.5" filter="url(#gb2)"/>
<path d="M125.4 427.3C127.3 427.8 133.0 430.2 137.1 430.3C141.1 430.4 145.8 429.6 149.5 427.8C153.2 426.0 155.9 421.7 159.5 419.3C163.0 417.0 168.8 414.6 170.6 413.6" fill="none" stroke="#4cff10" stroke-width="5" stroke-linecap="round" stroke-linejoin="round" opacity="1" filter="url(#gfx)"/>
<path d="M182.6 411.9C184.5 412.6 190.7 414.9 194.3 416.1C197.9 417.4 201.1 419.8 204.2 419.3C207.3 418.9 211.5 414.6 212.9 413.6" fill="none" stroke="#2c9a12" stroke-width="7.800000000000001" stroke-linecap="round" stroke-linejoin="round" opacity="0.5" filter="url(#gb2)"/>
<path d="M182.6 411.9C184.5 412.6 190.7 414.9 194.3 416.1C197.9 417.4 201.1 419.8 204.2 419.3C207.3 418.9 211.5 414.6 212.9 413.6" fill="none" stroke="#4cff10" stroke-width="5.4" stroke-linecap="round" stroke-linejoin="round" opacity="1" filter="url(#gfx)"/>
<path d="M212 414.5 L217 408.5 L218 412" stroke="#ffd020" stroke-width="2.2" fill="none" filter="url(#gb)"/>
<path d="M109.0 471.0C110.2 471.1 113.7 471.9 116.0 471.8C118.3 471.7 121.0 471.3 123.0 470.4C125.0 469.5 126.8 467.3 128.0 466.5C129.2 465.7 129.7 465.1 130.5 465.5C131.3 465.9 132.1 468.0 133.0 469.0C133.9 470.0 134.2 471.4 136.0 471.5C137.8 471.6 142.2 469.7 143.5 469.3" fill="none" stroke="#2c9a12" stroke-width="7.6" stroke-linecap="round" stroke-linejoin="round" opacity="0.5" filter="url(#gb2)"/>
<path d="M109.0 471.0C110.2 471.1 113.7 471.9 116.0 471.8C118.3 471.7 121.0 471.3 123.0 470.4C125.0 469.5 126.8 467.3 128.0 466.5C129.2 465.7 129.7 465.1 130.5 465.5C131.3 465.9 132.1 468.0 133.0 469.0C133.9 470.0 134.2 471.4 136.0 471.5C137.8 471.6 142.2 469.7 143.5 469.3" fill="none" stroke="#4cff10" stroke-width="5.2" stroke-linecap="round" stroke-linejoin="round" opacity="1" filter="url(#gfx)"/>
<path d="M183.8 466.6C184.9 465.9 187.6 462.7 190.5 462.1C193.5 461.5 198.2 462.0 201.7 462.9C205.3 463.7 208.8 465.5 211.7 467.1C214.6 468.7 216.2 472.2 219.1 472.6C222.0 473.0 225.7 468.9 229.1 469.6C232.5 470.2 237.8 475.4 239.5 476.5" fill="none" stroke="#2c9a12" stroke-width="7.0" stroke-linecap="round" stroke-linejoin="round" opacity="0.5" filter="url(#gb2)"/>
<path d="M183.8 466.6C184.9 465.9 187.6 462.7 190.5 462.1C193.5 461.5 198.2 462.0 201.7 462.9C205.3 463.7 208.8 465.5 211.7 467.1C214.6 468.7 216.2 472.2 219.1 472.6C222.0 473.0 225.7 468.9 229.1 469.6C232.5 470.2 237.8 475.4 239.5 476.5" fill="none" stroke="#4cff10" stroke-width="4.6" stroke-linecap="round" stroke-linejoin="round" opacity="1" filter="url(#gfx)"/>
<path d="M264.8 419.3C266.4 419.8 270.6 420.6 274.7 421.8C278.9 423.1 284.7 426.8 289.7 426.8C294.6 426.8 299.2 422.7 304.6 421.8C310.0 421.0 319.1 421.8 322.0 421.8" fill="none" stroke="#2c9a12" stroke-width="9.0" stroke-linecap="round" stroke-linejoin="round" opacity="0.5" filter="url(#gb2)"/>
<path d="M264.8 419.3C266.4 419.8 270.6 420.6 274.7 421.8C278.9 423.1 284.7 426.8 289.7 426.8C294.6 426.8 299.2 422.7 304.6 421.8C310.0 421.0 319.1 421.8 322.0 421.8" fill="none" stroke="#4cff10" stroke-width="6.6" stroke-linecap="round" stroke-linejoin="round" opacity="1" filter="url(#gfx)"/>
<path d="M327.6 427.1C329.5 428.2 335.0 432.2 338.6 433.7C342.3 435.1 347.8 435.5 349.7 435.9" fill="none" stroke="#2c9a12" stroke-width="4.6" stroke-linecap="round" stroke-linejoin="round" opacity="0.5" filter="url(#gb2)"/>
<path d="M327.6 427.1C329.5 428.2 335.0 432.2 338.6 433.7C342.3 435.1 347.8 435.5 349.7 435.9" fill="none" stroke="#3ed410" stroke-width="2.2" stroke-linecap="round" stroke-linejoin="round" opacity="0.75" filter="url(#gfx)"/>
<path d="M349.7 435.9C351.1 436.1 356.3 436.3 358.5 437.2C360.7 438.1 362.7 440.0 362.9 441.4C363.1 442.8 361.8 444.9 359.6 445.8C357.4 446.7 353.0 446.5 349.7 446.9C346.4 447.3 341.9 447.4 339.7 448.2C337.5 449.1 336.1 450.6 336.4 452.0C336.8 453.3 339.2 455.1 341.9 456.2C344.7 457.3 351.1 458.2 353.0 458.6" fill="none" stroke="#2c9a12" stroke-width="6.6" stroke-linecap="round" stroke-linejoin="round" opacity="0.5" filter="url(#gb2)"/>
<path d="M349.7 435.9C351.1 436.1 356.3 436.3 358.5 437.2C360.7 438.1 362.7 440.0 362.9 441.4C363.1 442.8 361.8 444.9 359.6 445.8C357.4 446.7 353.0 446.5 349.7 446.9C346.4 447.3 341.9 447.4 339.7 448.2C337.5 449.1 336.1 450.6 336.4 452.0C336.8 453.3 339.2 455.1 341.9 456.2C344.7 457.3 351.1 458.2 353.0 458.6" fill="none" stroke="#4cff10" stroke-width="4.2" stroke-linecap="round" stroke-linejoin="round" opacity="1" filter="url(#gfx)"/>
<path d="M353.0 458.6C354.6 459.6 359.6 463.2 362.9 465.0C366.2 466.8 371.2 468.7 372.8 469.4" fill="none" stroke="#2c9a12" stroke-width="4.8" stroke-linecap="round" stroke-linejoin="round" opacity="0.5" filter="url(#gb2)"/>
<path d="M353.0 458.6C354.6 459.6 359.6 463.2 362.9 465.0C366.2 466.8 371.2 468.7 372.8 469.4" fill="none" stroke="#3ed410" stroke-width="2.4" stroke-linecap="round" stroke-linejoin="round" opacity="0.85" filter="url(#gfx)"/>
<path d="M372.8 469.4C373.7 468.5 376.6 464.2 378.3 464.1C380.1 464.0 381.7 467.1 383.2 468.9C384.7 470.8 386.5 474.1 387.1 475.1" fill="none" stroke="#2c9a12" stroke-width="6.6" stroke-linecap="round" stroke-linejoin="round" opacity="0.5" filter="url(#gb2)"/>
<path d="M372.8 469.4C373.7 468.5 376.6 464.2 378.3 464.1C380.1 464.0 381.7 467.1 383.2 468.9C384.7 470.8 386.5 474.1 387.1 475.1" fill="none" stroke="#4cff10" stroke-width="4.2" stroke-linecap="round" stroke-linejoin="round" opacity="1" filter="url(#gfx)"/>
<path d="M387.1 475.1C387.9 476.1 390.2 479.2 391.6 481.1C393.0 482.9 394.9 485.3 395.5 486.1" fill="none" stroke="#2c9a12" stroke-width="5.0" stroke-linecap="round" stroke-linejoin="round" opacity="0.5" filter="url(#gb2)"/>
<path d="M387.1 475.1C387.9 476.1 390.2 479.2 391.6 481.1C393.0 482.9 394.9 485.3 395.5 486.1" fill="none" stroke="#3ed410" stroke-width="2.6" stroke-linecap="round" stroke-linejoin="round" opacity="0.85" filter="url(#gfx)"/>
<path d="M264.8 487.0C266.4 487.5 270.6 489.7 274.7 490.0C278.9 490.3 284.7 489.4 289.7 488.7C294.6 488.0 300.9 487.2 304.6 485.7C308.3 484.3 308.7 480.4 312.0 480.0C315.4 479.6 321.7 481.8 324.5 483.3C327.3 484.8 328.2 488.0 329.0 489.0" fill="none" stroke="#2c9a12" stroke-width="7.0" stroke-linecap="round" stroke-linejoin="round" opacity="0.5" filter="url(#gb2)"/>
<path d="M264.8 487.0C266.4 487.5 270.6 489.7 274.7 490.0C278.9 490.3 284.7 489.4 289.7 488.7C294.6 488.0 300.9 487.2 304.6 485.7C308.3 484.3 308.7 480.4 312.0 480.0C315.4 479.6 321.7 481.8 324.5 483.3C327.3 484.8 328.2 488.0 329.0 489.0" fill="none" stroke="#4cff10" stroke-width="4.6" stroke-linecap="round" stroke-linejoin="round" opacity="1" filter="url(#gfx)"/>
<path d="M355.6 506.4C357.0 505.9 360.7 504.1 364.3 503.2C367.8 502.2 373.2 500.4 376.7 500.7C380.2 501.0 384.0 504.2 385.4 504.9" fill="none" stroke="#2c9a12" stroke-width="9.0" stroke-linecap="round" stroke-linejoin="round" opacity="0.5" filter="url(#gb2)"/>
<path d="M355.6 506.4C357.0 505.9 360.7 504.1 364.3 503.2C367.8 502.2 373.2 500.4 376.7 500.7C380.2 501.0 384.0 504.2 385.4 504.9" fill="none" stroke="#4cff10" stroke-width="6.6" stroke-linecap="round" stroke-linejoin="round" opacity="1" filter="url(#gfx)"/>
<path d="M225.0 467.1C226.7 467.9 232.4 470.3 234.9 472.1C237.5 473.8 239.5 476.6 240.4 477.5" fill="none" stroke="#2c9a12" stroke-width="5.0" stroke-linecap="round" stroke-linejoin="round" opacity="0.5" filter="url(#gb2)"/>
<path d="M225.0 467.1C226.7 467.9 232.4 470.3 234.9 472.1C237.5 473.8 239.5 476.6 240.4 477.5" fill="none" stroke="#3ed410" stroke-width="2.6" stroke-linecap="round" stroke-linejoin="round" opacity="1" filter="url(#gfx)"/>
<path d="M83.6 459.6C83.8 459.8 84.3 460.8 84.5 461.0" fill="none" stroke="#2c9a12" stroke-width="4.6" stroke-linecap="round" stroke-linejoin="round" opacity="0.5" filter="url(#gb2)"/>
<path d="M83.6 459.6C83.8 459.8 84.3 460.8 84.5 461.0" fill="none" stroke="#3ed410" stroke-width="2.2" stroke-linecap="round" stroke-linejoin="round" opacity="0.8" filter="url(#gfx)"/>
<circle cx="137" cy="403.7" r="1.3" fill="#fff" filter="url(#gb)"/>
<circle cx="140.8" cy="511.6" r="1.6" fill="#fff" filter="url(#gb)"/>
<circle cx="141" cy="515.6" r="1.6" fill="#fff" filter="url(#gb)"/>
<circle cx="199" cy="489.5" r="1" fill="#fff" filter="url(#gb)"/>
<circle cx="137.5" cy="400" r="0.8" fill="#fff" filter="url(#gb)"/>
<circle cx="305" cy="408" r="0.9" fill="#fff" filter="url(#gb)"/>
<circle cx="327" cy="397.5" r="0.9" fill="#fff" filter="url(#gb)"/>
<rect x="354.3" y="511.9" width="37.9" height="4.5" fill="#fff"/>
</g>
</g>
</svg></body></html>
